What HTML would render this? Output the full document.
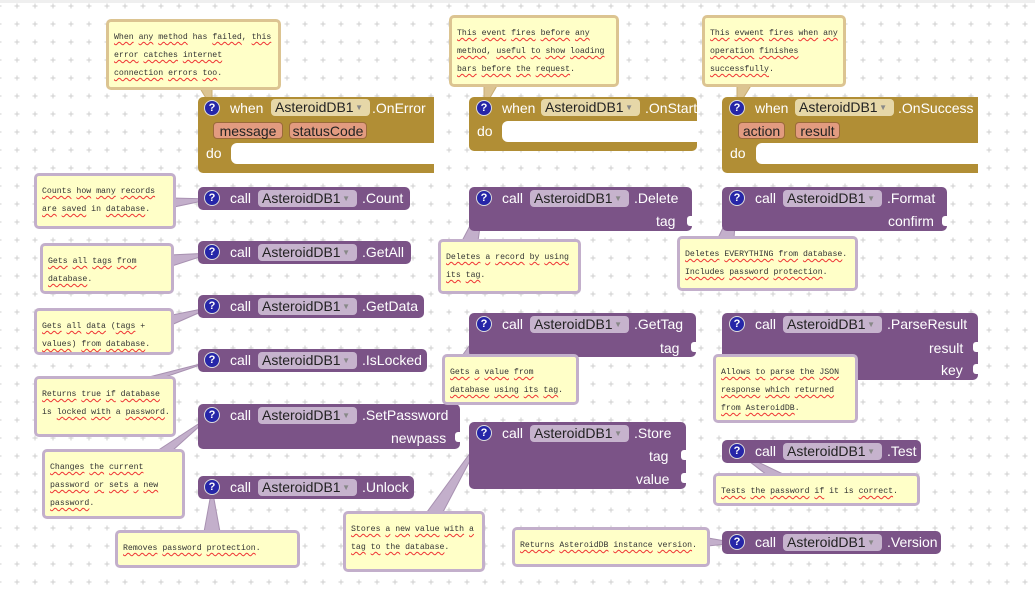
<!DOCTYPE html>
<html><head><meta charset="utf-8"><style>
html,body{margin:0;padding:0;width:1035px;height:591px;overflow:hidden;background:#fff;position:relative}
.g{position:absolute;left:0;top:0}
.b{position:absolute;border-radius:5px}
.p{background:#7b5387}
.m{background:#b18e35}
.t{position:absolute;color:#fff;font:14px "Liberation Sans",sans-serif;line-height:16px;white-space:nowrap}
.dd{position:absolute;height:17px;border-radius:4px;color:#222;font:14px "Liberation Sans",sans-serif;line-height:17px;padding-left:4px;white-space:nowrap;box-sizing:border-box}
.dd i{font-style:normal;font-size:8px;color:#888;position:absolute;right:7px;top:0}
.pd{background:#c6b3cd;width:99px}
.md{background:#e6d7a8;width:99px}
.pr{position:absolute;height:17px;border-radius:4px;background:#e29b80;border:1px solid #9a6a3a;color:#222;font:14px "Liberation Sans",sans-serif;line-height:16px;text-align:center;box-sizing:border-box}
.q{position:absolute;width:16px;height:16px;border-radius:50%;background:#2626a8;border:1px solid #ddd;color:#fff;font:bold 11px "Liberation Sans",sans-serif;line-height:15px;text-align:center;box-sizing:border-box}
.s{position:absolute;background:#fff;border-radius:6px 0 0 6px}
.n{position:absolute;width:5px;height:10px;background:#fff;border-radius:3px 0 0 3px}
.cm{position:absolute;background:#ffffc8;border-radius:5px;box-sizing:border-box;font:8.2px "Liberation Mono",monospace;color:#333;line-height:18px;padding:7px 0 0 5px;white-space:nowrap}
.cp{border:3px solid #c3afcb}
.ce{border:3px solid #dcc491}
.cm u{text-decoration:underline wavy #e33;text-decoration-thickness:1px;text-underline-offset:2px}
</style></head><body>
<svg class="g" width="1035" height="591">
<defs><pattern id="gr" x="8" y="-3" width="18" height="18" patternUnits="userSpaceOnUse">
<path d="M9 6.5v5M6.5 9h5" stroke="#cfcfcf" stroke-width="1"/></pattern></defs>
<rect width="1035" height="591" fill="url(#gr)"/>
<rect width="1035" height="3" fill="#efefef"/>
<g fill="#c3afcb" stroke="#a891b1" stroke-width="1">
<polygon points="172,198 174,207 212,199"/>
<polygon points="170,255 172,266 212,253"/>
<polygon points="167,316 169,326 212,307"/>
<polygon points="145,378 162,378 212,361"/>
<polygon points="157,451 172,451 212,415"/>
<polygon points="204,532 220,532 212,488"/>
<polygon points="462,241 478,241 484,199"/>
<polygon points="718,238 734,238 737,199"/>
<polygon points="462,356 478,356 484,325"/>
<polygon points="737,357 752,357 737,325"/>
<polygon points="427,512 443,512 484,434"/>
<polygon points="767,475 785,475 737,452"/>
<polygon points="708,538 708,546 737,543"/>
</g>
<g fill="#dcc491" stroke="#c9ad72" stroke-width="1">
<polygon points="198,85 212,85 212,108"/>
<polygon points="484,84 498,84 484,108"/>
<polygon points="737,84 752,84 737,108"/>
</g>
</svg>

<div class="b m" style="left:198px;top:97px;width:236px;height:76px;border-radius:5px 0 0 5px"></div>
<div class="s" style="left:231px;top:143px;width:203px;height:21px"></div>
<div class="q" style="left:204px;top:100px">?</div>
<div class="t" style="left:230px;top:100px">when</div>
<div class="dd md" style="left:271px;top:99px">AsteroidDB1<i>▼</i></div>
<div class="t" style="left:372px;top:100px">.OnError</div>
<div class="pr" style="left:213px;top:122px;width:70px">message</div>
<div class="pr" style="left:289px;top:122px;width:78px">statusCode</div>
<div class="t" style="left:206px;top:145px">do</div>

<div class="b m" style="left:469px;top:97px;width:228px;height:54px"></div>
<div class="s" style="left:502px;top:121px;width:195px;height:21px"></div>
<div class="q" style="left:476px;top:100px">?</div>
<div class="t" style="left:502px;top:100px">when</div>
<div class="dd md" style="left:541px;top:99px">AsteroidDB1<i>▼</i></div>
<div class="t" style="left:645px;top:100px">.OnStart</div>
<div class="t" style="left:477px;top:123px">do</div>

<div class="b m" style="left:722px;top:97px;width:256px;height:76px;border-radius:5px 0 0 5px"></div>
<div class="s" style="left:756px;top:143px;width:222px;height:21px"></div>
<div class="q" style="left:729px;top:100px">?</div>
<div class="t" style="left:755px;top:100px">when</div>
<div class="dd md" style="left:795px;top:99px">AsteroidDB1<i>▼</i></div>
<div class="t" style="left:898px;top:100px">.OnSuccess</div>
<div class="pr" style="left:738px;top:122px;width:47px">action</div>
<div class="pr" style="left:795px;top:122px;width:45px">result</div>
<div class="t" style="left:730px;top:145px">do</div>

<div class="b p" style="left:198px;top:187px;width:212px;height:23px"></div>
<div class="q" style="left:204px;top:190px">?</div><div class="t" style="left:230px;top:190px">call</div>
<div class="dd pd" style="left:258px;top:190px">AsteroidDB1<i>▼</i></div><div class="t" style="left:362px;top:190px">.Count</div>

<div class="b p" style="left:198px;top:241px;width:213px;height:23px"></div>
<div class="q" style="left:204px;top:244px">?</div><div class="t" style="left:230px;top:244px">call</div>
<div class="dd pd" style="left:258px;top:244px">AsteroidDB1<i>▼</i></div><div class="t" style="left:362px;top:244px">.GetAll</div>

<div class="b p" style="left:198px;top:295px;width:226px;height:23px"></div>
<div class="q" style="left:204px;top:298px">?</div><div class="t" style="left:230px;top:298px">call</div>
<div class="dd pd" style="left:258px;top:298px">AsteroidDB1<i>▼</i></div><div class="t" style="left:362px;top:298px">.GetData</div>

<div class="b p" style="left:198px;top:349px;width:229px;height:23px"></div>
<div class="q" style="left:204px;top:352px">?</div><div class="t" style="left:230px;top:352px">call</div>
<div class="dd pd" style="left:258px;top:352px">AsteroidDB1<i>▼</i></div><div class="t" style="left:362px;top:352px">.IsLocked</div>

<div class="b p" style="left:198px;top:404px;width:262px;height:45px"></div>
<div class="n" style="left:455px;top:432px"></div>
<div class="q" style="left:204px;top:407px">?</div><div class="t" style="left:230px;top:407px">call</div>
<div class="dd pd" style="left:258px;top:407px">AsteroidDB1<i>▼</i></div><div class="t" style="left:362px;top:407px">.SetPassword</div>
<div class="t" style="left:391px;top:430px">newpass</div>

<div class="b p" style="left:198px;top:476px;width:216px;height:23px"></div>
<div class="q" style="left:204px;top:479px">?</div><div class="t" style="left:230px;top:479px">call</div>
<div class="dd pd" style="left:258px;top:479px">AsteroidDB1<i>▼</i></div><div class="t" style="left:362px;top:479px">.Unlock</div>

<div class="b p" style="left:469px;top:187px;width:223px;height:44px"></div>
<div class="n" style="left:687px;top:216px"></div>
<div class="q" style="left:476px;top:190px">?</div><div class="t" style="left:502px;top:190px">call</div>
<div class="dd pd" style="left:530px;top:190px">AsteroidDB1<i>▼</i></div><div class="t" style="left:634px;top:190px">.Delete</div>
<div class="t" style="left:656px;top:213px">tag</div>

<div class="b p" style="left:469px;top:313px;width:227px;height:44px"></div>
<div class="n" style="left:691px;top:342px"></div>
<div class="q" style="left:476px;top:316px">?</div><div class="t" style="left:502px;top:316px">call</div>
<div class="dd pd" style="left:530px;top:316px">AsteroidDB1<i>▼</i></div><div class="t" style="left:634px;top:316px">.GetTag</div>
<div class="t" style="left:660px;top:340px">tag</div>

<div class="b p" style="left:469px;top:422px;width:217px;height:67px"></div>
<div class="n" style="left:681px;top:450px"></div><div class="n" style="left:681px;top:473px"></div>
<div class="q" style="left:476px;top:425px">?</div><div class="t" style="left:502px;top:425px">call</div>
<div class="dd pd" style="left:530px;top:425px">AsteroidDB1<i>▼</i></div><div class="t" style="left:634px;top:425px">.Store</div>
<div class="t" style="left:649px;top:448px">tag</div>
<div class="t" style="left:636px;top:471px">value</div>

<div class="b p" style="left:722px;top:187px;width:225px;height:44px"></div>
<div class="n" style="left:942px;top:216px"></div>
<div class="q" style="left:729px;top:190px">?</div><div class="t" style="left:755px;top:190px">call</div>
<div class="dd pd" style="left:783px;top:190px">AsteroidDB1<i>▼</i></div><div class="t" style="left:887px;top:190px">.Format</div>
<div class="t" style="left:888px;top:213px">confirm</div>

<div class="b p" style="left:722px;top:313px;width:256px;height:67px"></div>
<div class="n" style="left:973px;top:342px"></div><div class="n" style="left:973px;top:364px"></div>
<div class="q" style="left:729px;top:316px">?</div><div class="t" style="left:755px;top:316px">call</div>
<div class="dd pd" style="left:783px;top:316px">AsteroidDB1<i>▼</i></div><div class="t" style="left:887px;top:316px">.ParseResult</div>
<div class="t" style="left:929px;top:340px">result</div>
<div class="t" style="left:941px;top:362px">key</div>

<div class="b p" style="left:722px;top:440px;width:199px;height:23px"></div>
<div class="q" style="left:729px;top:443px">?</div><div class="t" style="left:755px;top:443px">call</div>
<div class="dd pd" style="left:783px;top:443px">AsteroidDB1<i>▼</i></div><div class="t" style="left:887px;top:443px">.Test</div>

<div class="b p" style="left:722px;top:531px;width:219px;height:23px"></div>
<div class="q" style="left:729px;top:534px">?</div><div class="t" style="left:755px;top:534px">call</div>
<div class="dd pd" style="left:783px;top:534px">AsteroidDB1<i>▼</i></div><div class="t" style="left:887px;top:534px">.Version</div>

<div class="cm ce" style="left:106px;top:19px;width:175px;height:71px"><u>When</u> <u>any</u> <u>method</u> has <u>failed</u>, <u>this</u><br><u>error</u> <u>catches</u> <u>internet</u><br><u>connection</u> <u>errors</u> <u>too</u>.</div>
<div class="cm ce" style="left:449px;top:15px;width:170px;height:72px"><u>This</u> <u>event</u> <u>fires</u> <u>before</u> <u>any</u><br><u>method</u>, <u>useful</u> <u>to</u> <u>show</u> <u>loading</u><br><u>bars</u> <u>before</u> <u>the</u> <u>request</u>.</div>
<div class="cm ce" style="left:702px;top:15px;width:144px;height:72px"><u>This</u> <u>evwent</u> <u>fires</u> <u>when</u> <u>any</u><br><u>operation</u> <u>finishes</u><br><u>successfully</u>.</div>

<div class="cm cp" style="left:34px;top:173px;width:142px;height:56px"><u>Counts</u> <u>how</u> <u>many</u> <u>records</u><br><u>are</u> <u>saved</u> in <u>database</u>.</div>
<div class="cm cp" style="left:40px;top:243px;width:134px;height:51px"><u>Gets</u> <u>all</u> <u>tags</u> <u>from</u><br><u>database</u>.</div>
<div class="cm cp" style="left:34px;top:308px;width:140px;height:47px"><u>Gets</u> <u>all</u> <u>data</u> (<u>tags</u> +<br><u>values</u>) <u>from</u> <u>database</u>.</div>
<div class="cm cp" style="left:34px;top:376px;width:142px;height:61px"><u>Returns</u> <u>true</u> <u>if</u> <u>database</u><br>is <u>locked</u> <u>with</u> a <u>password</u>.</div>
<div class="cm cp" style="left:42px;top:449px;width:143px;height:70px"><u>Changes</u> <u>the</u> <u>current</u><br><u>password</u> <u>or</u> <u>sets</u> <u>a</u> <u>new</u><br><u>password</u>.</div>
<div class="cm cp" style="left:115px;top:530px;width:185px;height:38px"><u>Removes</u> <u>password</u> <u>protection</u>.</div>

<div class="cm cp" style="left:438px;top:239px;width:143px;height:55px"><u>Deletes</u> <u>a</u> <u>record</u> <u>by</u> <u>using</u><br><u>its</u> <u>tag</u>.</div>
<div class="cm cp" style="left:442px;top:354px;width:137px;height:51px"><u>Gets</u> <u>a</u> <u>value</u> <u>from</u><br><u>database</u> <u>using</u> <u>its</u> <u>tag</u>.</div>
<div class="cm cp" style="left:343px;top:511px;width:142px;height:61px"><u>Stores</u> <u>a</u> <u>new</u> <u>value</u> <u>with</u> <u>a</u><br><u>tag</u> <u>to</u> <u>the</u> <u>database</u>.</div>
<div class="cm cp" style="left:512px;top:527px;width:198px;height:40px"><u>Returns</u> <u>AsteroidDB</u> <u>instance</u> <u>version</u>.</div>

<div class="cm cp" style="left:677px;top:236px;width:181px;height:55px"><u>Deletes</u> <u>EVERYTHING</u> <u>from</u> <u>database</u>.<br><u>Includes</u> <u>password</u> <u>protection</u>.</div>
<div class="cm cp" style="left:713px;top:354px;width:145px;height:69px"><u>Allows</u> <u>to</u> <u>parse</u> <u>the</u> <u>JSON</u><br><u>response</u> <u>which</u> <u>returned</u><br><u>from</u> <u>AsteroidDB</u>.</div>
<div class="cm cp" style="left:713px;top:473px;width:207px;height:33px"><u>Tests</u> <u>the</u> <u>password</u> <u>if</u> it is <u>correct</u>.</div>
</body></html>
